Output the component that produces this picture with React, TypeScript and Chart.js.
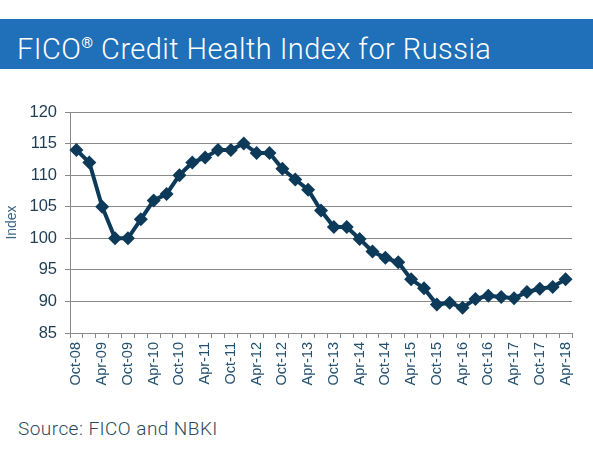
import React, { useEffect, useRef } from "react";
import { Chart, registerables } from "chart.js";

Chart.register(...registerables);

const categories: string[] = [
  "Oct-08", "Jan-09", "Apr-09", "Jul-09", "Oct-09", "Jan-10", "Apr-10", "Jul-10",
  "Oct-10", "Jan-11", "Apr-11", "Jul-11", "Oct-11", "Jan-12", "Apr-12", "Jul-12",
  "Oct-12", "Jan-13", "Apr-13", "Jul-13", "Oct-13", "Jan-14", "Apr-14", "Jul-14",
  "Oct-14", "Jan-15", "Apr-15", "Jul-15", "Oct-15", "Jan-16", "Apr-16", "Jul-16",
  "Oct-16", "Jan-17", "Apr-17", "Jul-17", "Oct-17", "Jan-18", "Apr-18",
];

const indexValues: number[] = [
  114, 112, 105, 100, 100, 103, 106, 107,
  110, 112, 112.8, 114, 114, 115, 113.5, 113.5,
  111, 109.3, 107.7, 104.4, 101.8, 101.8, 99.9, 97.9,
  96.9, 96.2, 93.5, 92.1, 89.5, 89.8, 89, 90.4,
  90.9, 90.7, 90.5, 91.5, 92, 92.3, 93.5,
];

const yTicks: number[] = [85, 90, 95, 100, 105, 110, 115, 120];

const titleMain = "FICO";
const titleMark = "\u00AE";
const titleRest = " Credit Health Index for Russia";
const sourceText = "Source: FICO and NBKI";

export default function App() {
  const canvasRef = useRef<HTMLCanvasElement | null>(null);

  useEffect(() => {
    if (!canvasRef.current) return;
    const chart = new Chart(canvasRef.current, {
      type: "line",
      data: {
        labels: categories,
        datasets: [
          {
            label: "Index",
            data: indexValues,
            borderColor: "#0e3a5a",
            backgroundColor: "#0e3a5a",
            borderWidth: 4,
            pointStyle: "rectRot",
            pointRadius: 7,
            pointBorderWidth: 0,
            pointBackgroundColor: "#0e3a5a",
            tension: 0,
          },
        ],
      },
      options: {
        animation: false,
        responsive: false,
        maintainAspectRatio: false,
        layout: { padding: { top: 22, right: 21, bottom: 0, left: 0 } },
        plugins: { legend: { display: false }, tooltip: { enabled: false } },
        scales: {
          x: {
            type: "category",
            offset: true,
            grid: {
              offset: true,
              drawOnChartArea: false,
              drawTicks: true,
              tickLength: 5,
              color: "#8a8a8a",
            },
            border: { display: true, color: "#8a8a8a", width: 1 },
            ticks: {
              autoSkip: false,
              maxRotation: 90,
              minRotation: 90,
              padding: 4,
              color: "#23506f",
              font: { family: "'Liberation Sans', Arial, sans-serif", size: 14.5 },
              callback: (_v: any, i: number) => (i % 2 === 0 ? categories[i] : ""),
            },
            afterFit: (scale: any) => {
              scale.height = 67;
            },
          },
          y: {
            min: yTicks[0],
            max: yTicks[yTicks.length - 1],
            afterBuildTicks: (scale: any) => {
              scale.ticks = yTicks.map((v) => ({ value: v }));
            },
            grid: {
              drawOnChartArea: true,
              drawTicks: true,
              tickLength: 5,
              color: "#8a8a8a",
            },
            border: { display: true, color: "#8a8a8a", width: 1 },
            ticks: {
              padding: 8,
              color: "#1f3d52",
              font: { family: "'Liberation Sans', Arial, sans-serif", size: 16.5 },
            },
            title: {
              display: true,
              text: "Index",
              color: "#3a6686",
              font: { family: "'Liberation Sans', Arial, sans-serif", size: 14 },
            },
            afterFit: (scale: any) => {
              scale.width = 70;
            },
          },
        },
      },
    });
    return () => chart.destroy();
  }, []);

  return (
    <div
      style={{
        position: "fixed",
        left: 0,
        top: 0,
        width: 593,
        height: 463,
        background: "#ffffff",
        overflow: "hidden",
      }}
    >
      <div
        style={{
          position: "absolute",
          left: 0,
          top: 19,
          width: 593,
          height: 50,
          background: "#1f70b9",
        }}
      />
      <div
        style={{
          position: "absolute",
          left: 17,
          top: 29,
          fontFamily: "Roboto, 'Open Sans', sans-serif",
          fontWeight: 300,
          fontSize: 29,
          lineHeight: "29px",
          letterSpacing: "0.45px",
          color: "#ffffff",
          whiteSpace: "nowrap",
        }}
      >
        {titleMain}
        <span style={{ fontSize: 15, verticalAlign: "11px", fontWeight: 400 }}>{titleMark}</span>
        {titleRest}
      </div>
      <canvas
        ref={canvasRef}
        width={593}
        height={310}
        style={{ position: "absolute", left: 0, top: 90, width: 593, height: 310 }}
      />
      <div
        style={{
          position: "absolute",
          left: 18,
          top: 419,
          fontFamily: "Roboto, 'Open Sans', sans-serif",
          fontWeight: 300,
          fontSize: 19,
          lineHeight: "19px",
          letterSpacing: "0.45px",
          color: "#2c4a5c",
          whiteSpace: "nowrap",
        }}
      >
        {sourceText}
      </div>
    </div>
  );
}
